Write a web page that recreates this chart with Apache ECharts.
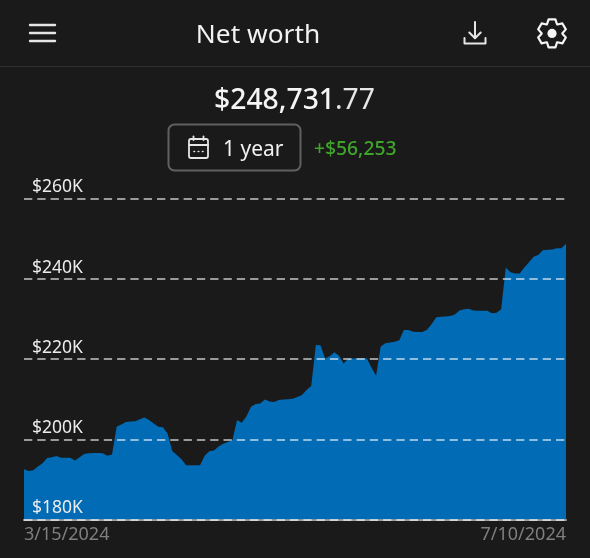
<!DOCTYPE html>
<html>
<head>
<meta charset="utf-8">
<title>Net worth</title>
<style>
  html, body { margin: 0; padding: 0; background: #1a1a1a; }
  #main { width: 590px; height: 558px; }
</style>
<script src="https://cdn.jsdelivr.net/npm/echarts@6/dist/echarts.min.js"></script>
</head>
<body>
<div id="main"></div>
<script>
// net worth in $K, one reading per day from 3/15/2024 to 7/10/2024
const netWorth = [
  192.5, 192.1, 192.3, 193.2, 194.0, 195.3, 195.5, 195.8, 195.4, 195.4,
  195.4, 194.7, 195.5, 196.3, 196.5, 196.6, 196.6, 196.5, 195.9, 196.2,
  203.1, 203.7, 204.3, 204.4, 204.5, 205.0, 205.4, 204.8, 203.9, 203.1,
  203.0, 201.4, 197.1, 196.1, 195.0, 193.5, 193.5, 193.5, 193.5, 195.9,
  197.0, 197.2, 198.2, 198.9, 199.3, 199.8, 204.8, 204.1, 205.7, 208.1,
  208.8, 208.9, 209.9, 209.4, 209.3, 209.8, 209.9, 210.0, 210.1, 210.5,
  211.0, 212.3, 213.3, 223.5, 223.4, 220.1, 220.7, 221.7, 220.8, 218.9,
  220.1, 220.1, 220.2, 220.2, 220.2, 217.9, 215.8, 223.1, 223.9, 224.1,
  224.3, 224.7, 227.2, 227.2, 226.8, 226.7, 226.7, 227.3, 228.7, 230.4,
  230.5, 230.6, 230.7, 231.1, 232.1, 232.4, 232.5, 232.1, 232.0, 232.0,
  232.0, 231.4, 231.5, 232.4, 242.8, 241.6, 241.3, 241.3, 242.8, 244.1,
  245.5, 245.9, 247.1, 247.2, 247.3, 247.6, 247.6, 248.73
];

// one category per day
const days = [];
for (let i = 0; i < netWorth.length; i++) {
  const d = new Date(2024, 2, 15 + i);
  days.push((d.getMonth() + 1) + '/' + d.getDate() + '/' + d.getFullYear());
}

const yTicks = [180, 200, 220, 240, 260];

const FONT = '"Noto Sans", sans-serif';
const WHITE = '#f2f2f2';
const ICON = '#e6e6e6';

// six-tooth outline for the settings icon
function gearPoints(cx, cy, rOut, rIn) {
  const pts = [];
  for (let t = 0; t < 6; t++) {
    const a = -Math.PI / 2 + t * Math.PI / 3;
    [[-0.5, rIn], [-0.24, rOut], [0.24, rOut], [0.5, rIn]].forEach(function (p) {
      pts.push([cx + p[1] * Math.cos(a + p[0]), cy + p[1] * Math.sin(a + p[0])]);
    });
  }
  return pts;
}

function line(points, color, width) {
  return {
    type: 'polyline',
    silent: true,
    shape: { points: points },
    style: { stroke: color, lineWidth: width, fill: null, lineCap: 'round', lineJoin: 'round' }
  };
}

function label(text, x, y, size, color, align, weight) {
  return {
    type: 'text',
    silent: true,
    x: x,
    y: y,
    style: {
      text: text,
      fill: color,
      font: (weight || 400) + ' ' + size + 'px ' + FONT,
      align: align || 'left',
      verticalAlign: 'middle'
    }
  };
}

const header = [
  // menu
  line([[30, 25], [55, 25]], ICON, 2.4),
  line([[30, 33], [55, 33]], ICON, 2.4),
  line([[30, 41], [55, 41]], ICON, 2.4),
  label('Net worth', 258, 36, 26.3, WHITE, 'center'),
  // download
  line([[475, 22], [475, 38]], ICON, 2),
  line([[469.3, 32.5], [475, 38.3], [480.7, 32.5]], ICON, 2),
  line([[464.5, 38], [464.5, 43.5], [485.5, 43.5], [485.5, 38]], ICON, 2),
  // settings
  {
    type: 'polygon',
    silent: true,
    shape: { points: gearPoints(552, 33.4, 14.4, 10.4) },
    style: { stroke: '#f5f5f5', lineWidth: 2.2, fill: null, lineJoin: 'round' }
  },
  { type: 'circle', silent: true, shape: { cx: 552, cy: 33.4, r: 4.6 }, style: { fill: '#f5f5f5' } },
  // header divider
  line([[0, 66.5], [590, 66.5]], '#2e2e2e', 1),
  // balance
  {
    type: 'text',
    silent: true,
    x: 294.5,
    y: 101,
    style: {
      text: '{a|$248,731}{b|.77}',
      align: 'center',
      verticalAlign: 'middle',
      rich: {
        a: { fill: '#f5f5f5', font: '500 28.3px ' + FONT },
        b: { fill: '#e6e6e6', font: '400 28.3px ' + FONT }
      }
    }
  },
  // range button
  {
    type: 'rect',
    silent: true,
    shape: { x: 168.5, y: 124.5, width: 132, height: 46, r: 6 },
    style: { stroke: '#606060', lineWidth: 2, fill: null }
  },
  {
    type: 'rect',
    silent: true,
    shape: { x: 189, y: 139, width: 19, height: 19, r: 2 },
    style: { stroke: ICON, lineWidth: 1.8, fill: null }
  },
  line([[189, 145], [208, 145]], ICON, 1.8),
  line([[193.5, 136.5], [193.5, 140]], ICON, 1.8),
  line([[203.5, 136.5], [203.5, 140]], ICON, 1.8),
  line([[194, 151.5], [194.6, 151.5]], ICON, 1.6),
  line([[198.2, 151.5], [198.8, 151.5]], ICON, 1.6),
  line([[202.4, 151.5], [203, 151.5]], ICON, 1.6),
  label('1 year', 223, 150, 21, WHITE),
  label('+$56,253', 314, 149.5, 19.3, '#3fa52a', 'left', 500)
];

const chart = echarts.init(document.getElementById('main'));
chart.setOption({
  backgroundColor: '#1a1a1a',
  animation: false,
  textStyle: { fontFamily: FONT },
  grid: { left: 24, right: 24, top: 198.5, bottom: 38.5 },
  xAxis: {
    type: 'category',
    data: days,
    boundaryGap: false,
    axisTick: { show: false },
    axisLine: { lineStyle: { color: '#a0a0a0', width: 2 } },
    axisLabel: {
      color: '#7f7f7f',
      fontSize: 18,
      fontFamily: FONT,
      margin: 6,
      alignMinLabel: 'left',
      alignMaxLabel: 'right',
      interval: function (i) { return i === 0 || i === days.length - 1; }
    }
  },
  yAxis: {
    type: 'value',
    min: yTicks[0],
    max: yTicks[yTicks.length - 1],
    interval: yTicks[1] - yTicks[0],
    z: 5,
    axisLine: { show: false },
    axisTick: { show: false },
    splitLine: { show: false },
    axisLabel: {
      inside: true,
      margin: 8,
      color: '#ececec',
      fontSize: 17.5,
      fontFamily: FONT,
      verticalAlign: 'bottom',
      padding: [0, 0, 2, 0],
      formatter: function (v) { return '$' + v + 'K'; }
    }
  },
  series: [{
    name: 'Net worth',
    type: 'line',
    data: netWorth,
    symbol: 'none',
    lineStyle: { width: 0 },
    areaStyle: { color: '#016bb5', opacity: 1 },
    // gridlines sit on top of the area, so they are drawn as mark lines
    markLine: {
      silent: true,
      symbol: 'none',
      label: { show: false },
      lineStyle: { color: 'rgba(255,255,255,0.56)', width: 1.8, type: [8.3, 5] },
      data: yTicks.map(function (v) { return { yAxis: v }; })
    }
  }],
  graphic: { elements: header }
});
</script>
</body>
</html>
